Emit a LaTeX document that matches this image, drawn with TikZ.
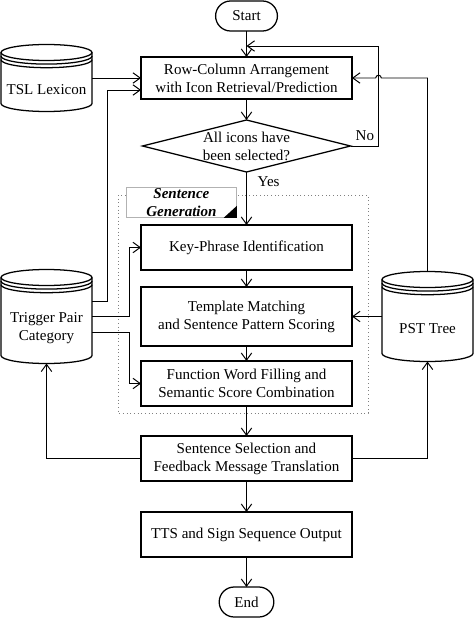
\documentclass[tikz,border=0pt]{standalone}
\usepackage{fontspec}
\setmainfont{Liberation Serif}
\usetikzlibrary{positioning,shapes.geometric,shapes.misc,arrows.meta}
\tikzset{
    stage/.style={
        rectangle,
        draw=black,
        line width=0.9pt,
        outer sep=0pt,
        minimum width=5.275cm,
        align=center,
        inner sep=2pt
    },
    terminal/.style={
        rounded rectangle,
        draw=black,
        line width=0.9pt,
        outer sep=0pt,
        minimum height=0.75cm
    },
    decision/.style={
        diamond,
        draw=black,
        line width=0.9pt,
        outer sep=0pt,
        shape aspect=4,
        inner sep=-1.5pt,
        minimum width=5.2cm,
        minimum height=1.3cm,
        align=center
    },
    dbbox/.style={
        rectangle,
        minimum width=2.275cm,
        inner sep=0pt,
        outer sep=0pt
    },
    sglabel/.style={
        rectangle,
        draw=gray!60,
        fill=white,
        line width=0.6pt,
        minimum width=2.75cm,
        minimum height=0.75cm,
        inner sep=0pt,
        align=center,
        font=\fontsize{10.7}{12.8}\selectfont\bfseries\itshape
    },
    arrow/.style={
        -{Straight Barb[length=1.8mm,width=2.6mm]},
        line width=0.7pt
    }
}
% database drum: name, placement, height, text
\newcommand{\dbase}[4]{%
  \node[dbbox, minimum height=#3, #2] (#1) {};
  \node[align=center] (#1-text) at ([yshift=-0.3cm]#1.center) {#4};
  \draw[line width=0.9pt] ([yshift=-0.2cm]#1.north) ellipse [x radius=1.1375cm, y radius=0.2cm];
  \draw[line width=0.9pt] ([yshift=-0.2cm]#1.north west) -- ([yshift=0.2cm]#1.south west)
      arc [start angle=180, end angle=360, x radius=1.1375cm, y radius=0.2cm] -- ([yshift=-0.2cm]#1.north east);
  \foreach \off in {-0.29,-0.38}
      \draw[line width=0.9pt] ([yshift=\off cm]#1.north west) arc [start angle=180, end angle=360, x radius=1.1375cm, y radius=0.2cm];
}

\begin{document}
\begin{tikzpicture}[every node/.style={font=\fontsize{10.7}{12.8}\selectfont}]
          \useasboundingbox (0,0) rectangle (11.85,-15.475);
          % main flow
          \node (start) [terminal, minimum width=1.78cm] at (6.1625,-0.4) {Start};
          \node (arrange) [stage, minimum height=1.05cm, below=0.65cm of start] {Row-Column Arrangement\\with Icon Retrieval/Prediction};
          \node (ask) [decision, below=0.525cm of arrange] {All icons have\\been selected?};
          \node (keyphrase) [stage, minimum height=1.125cm, below=1.325cm of ask] {Key-Phrase Identification};
          \node (template) [stage, minimum height=1.475cm, below=0.425cm of keyphrase] {Template Matching\\and Sentence Pattern Scoring};
          \node (filling) [stage, minimum height=1.125cm, below=0.375cm of template] {Function Word Filling and\\Semantic Score Combination};
          \node (select) [stage, minimum height=1.125cm, below=0.75cm of filling] {Sentence Selection and\\Feedback Message Translation};
          \node (output) [stage, minimum height=1.125cm, below=0.775cm of select] {TTS and Sign Sequence Output};
          \node (end) [terminal, minimum width=1.6cm, below=0.75cm of output] {End};
          % databases
          \dbase{tsl}{left=1.225cm of arrange}{1.675cm}{TSL Lexicon}
          \dbase{trigger}{left=1.225cm of template}{2.35cm}{Trigger Pair\\Category}
          \dbase{pst}{right=0.75cm of template}{2.25cm}{PST Tree}
          % sentence generation group
          \coordinate (sgnw) at ([xshift=-0.575cm,yshift=0.75cm]keyphrase.north west);
          \coordinate (sgse) at ([xshift=0.4cm,yshift=-0.175cm]filling.south east);
          \draw [gray, dotted, line width=0.6pt] (sgnw) rectangle (sgse);
          \node (sg) [sglabel, anchor=north west] at ([xshift=0.2cm,yshift=0.2cm]sgnw) {Sentence\\Generation};
          \fill ([xshift=-0.33cm]sg.south east) -- (sg.south east) -- ([yshift=0.3cm]sg.south east) -- cycle;
          % connectors
          \draw [arrow] (start) -- (arrange);
          \draw [arrow] (arrange) -- (ask);
          \draw [arrow] (ask) -- node[pos=0.19, right, xshift=0.15cm] {Yes} (keyphrase);
          \draw [arrow] (keyphrase) -- (template);
          \draw [arrow] (template) -- (filling);
          \draw [arrow] (filling) -- (select);
          \draw [arrow] (select) -- (output);
          \draw [arrow] (output) -- (end);
          \coordinate (noturn) at ([xshift=0.7cm]ask.east);
          \coordinate (hop) at (noturn |- arrange.east);
          \draw [arrow] (ask.east) node[above right] {No} -- (noturn) |- ([yshift=0.275cm]arrange.north);
          \draw [arrow] (tsl) -- (arrange);
          \draw [arrow] ([yshift=0.375cm]trigger.east) -| ([xshift=-0.85cm,yshift=-0.3cm]arrange.west) -- ([yshift=-0.3cm]arrange.west);
          \draw [arrow] (trigger.east) -| ([xshift=-0.3cm]keyphrase.west) -- (keyphrase.west);
          \draw [arrow] ([yshift=-0.4cm]trigger.east) -| ([xshift=-0.3cm]filling.west) -- (filling.west);
          \draw [arrow] (pst) -- (template);
          \draw [arrow] (pst.north) |- ([xshift=0.07cm]hop) arc [start angle=0, end angle=180, radius=0.07cm] -- (arrange.east);
          \draw [arrow] (select.west) -| (trigger.south);
          \draw [arrow] (select.east) -| (pst.south);
        \end{tikzpicture}
\end{document}
